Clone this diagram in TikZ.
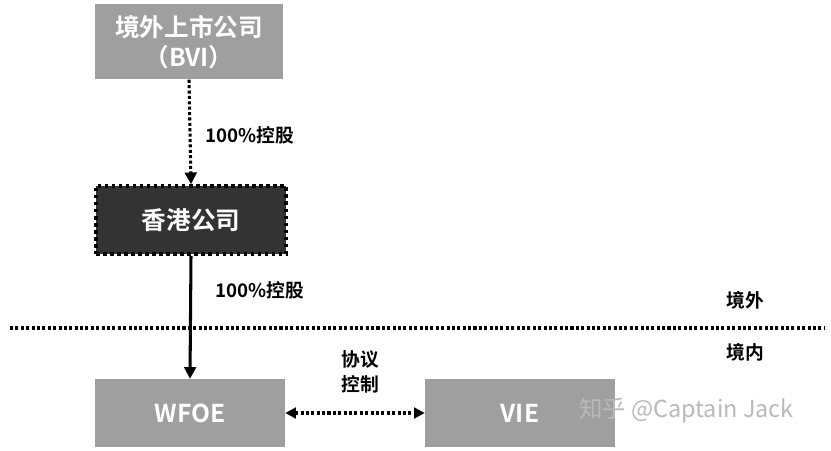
\documentclass[tikz,border=0pt]{standalone}
\usepackage{fontspec}
\setmainfont{Noto Sans CJK SC}[BoldFont={* Bold}]
\usetikzlibrary{arrows.meta}
\begin{document}
\begin{tikzpicture}[x=0.03cm,y=-0.03cm,
  box/.style={draw=none,fill=gray!75,text=white,font=\bfseries\fontsize{21}{25}\selectfont,minimum width=190*0.03cm,minimum height=68*0.03cm,inner sep=0pt,align=center},
  lbl/.style={font=\bfseries\fontsize{16}{21}\selectfont,align=center},
  dotline/.style={line width=2.6pt,dotted},
  tip/.style={-{Triangle[length=10pt,width=10pt]}}]
\useasboundingbox (0,0) rectangle (831,451);
\node[box,minimum width=188*0.03cm,minimum height=75*0.03cm] (bvi) at (189,42) {境外上市公司\\（BVI）};
\node[box,fill=black!80,draw=black,line width=3pt,dashed,minimum width=190*0.03cm,minimum height=68*0.03cm] (hk) at (191,220) {香港公司};
\node[box] (wfoe) at (190,413) {WFOE};
\node[box] (vie) at (520,413) {VIE};
\draw[dotline,tip] (bvi.south) -- (hk.north);
\node[lbl,anchor=west] (l1) at (201,135) {100\%控股};
\draw[line width=2.6pt,tip] (hk.south) -- (wfoe.north);
\node[lbl,anchor=west] (l2) at (211,290) {100\%控股};
\coordinate (dl) at (10,328); \coordinate (dr) at (825,328);
\draw[dotline] (dl) -- (dr);
\node[lbl] (out) at (745,300) {境外};
\node[lbl] (in) at (745,352) {境内};
\draw[dotline,{Triangle[length=9pt,width=9pt]}-{Triangle[length=9pt,width=9pt]}] (wfoe.east) -- (vie.west);
\node[lbl] (xy) at (360,372) {协议\\控制};
\node[font=\fontsize{20}{24}\selectfont,text=gray!55,anchor=west] (wm) at (575,410) {知乎 @Captain Jack};
\end{tikzpicture}
\end{document}
